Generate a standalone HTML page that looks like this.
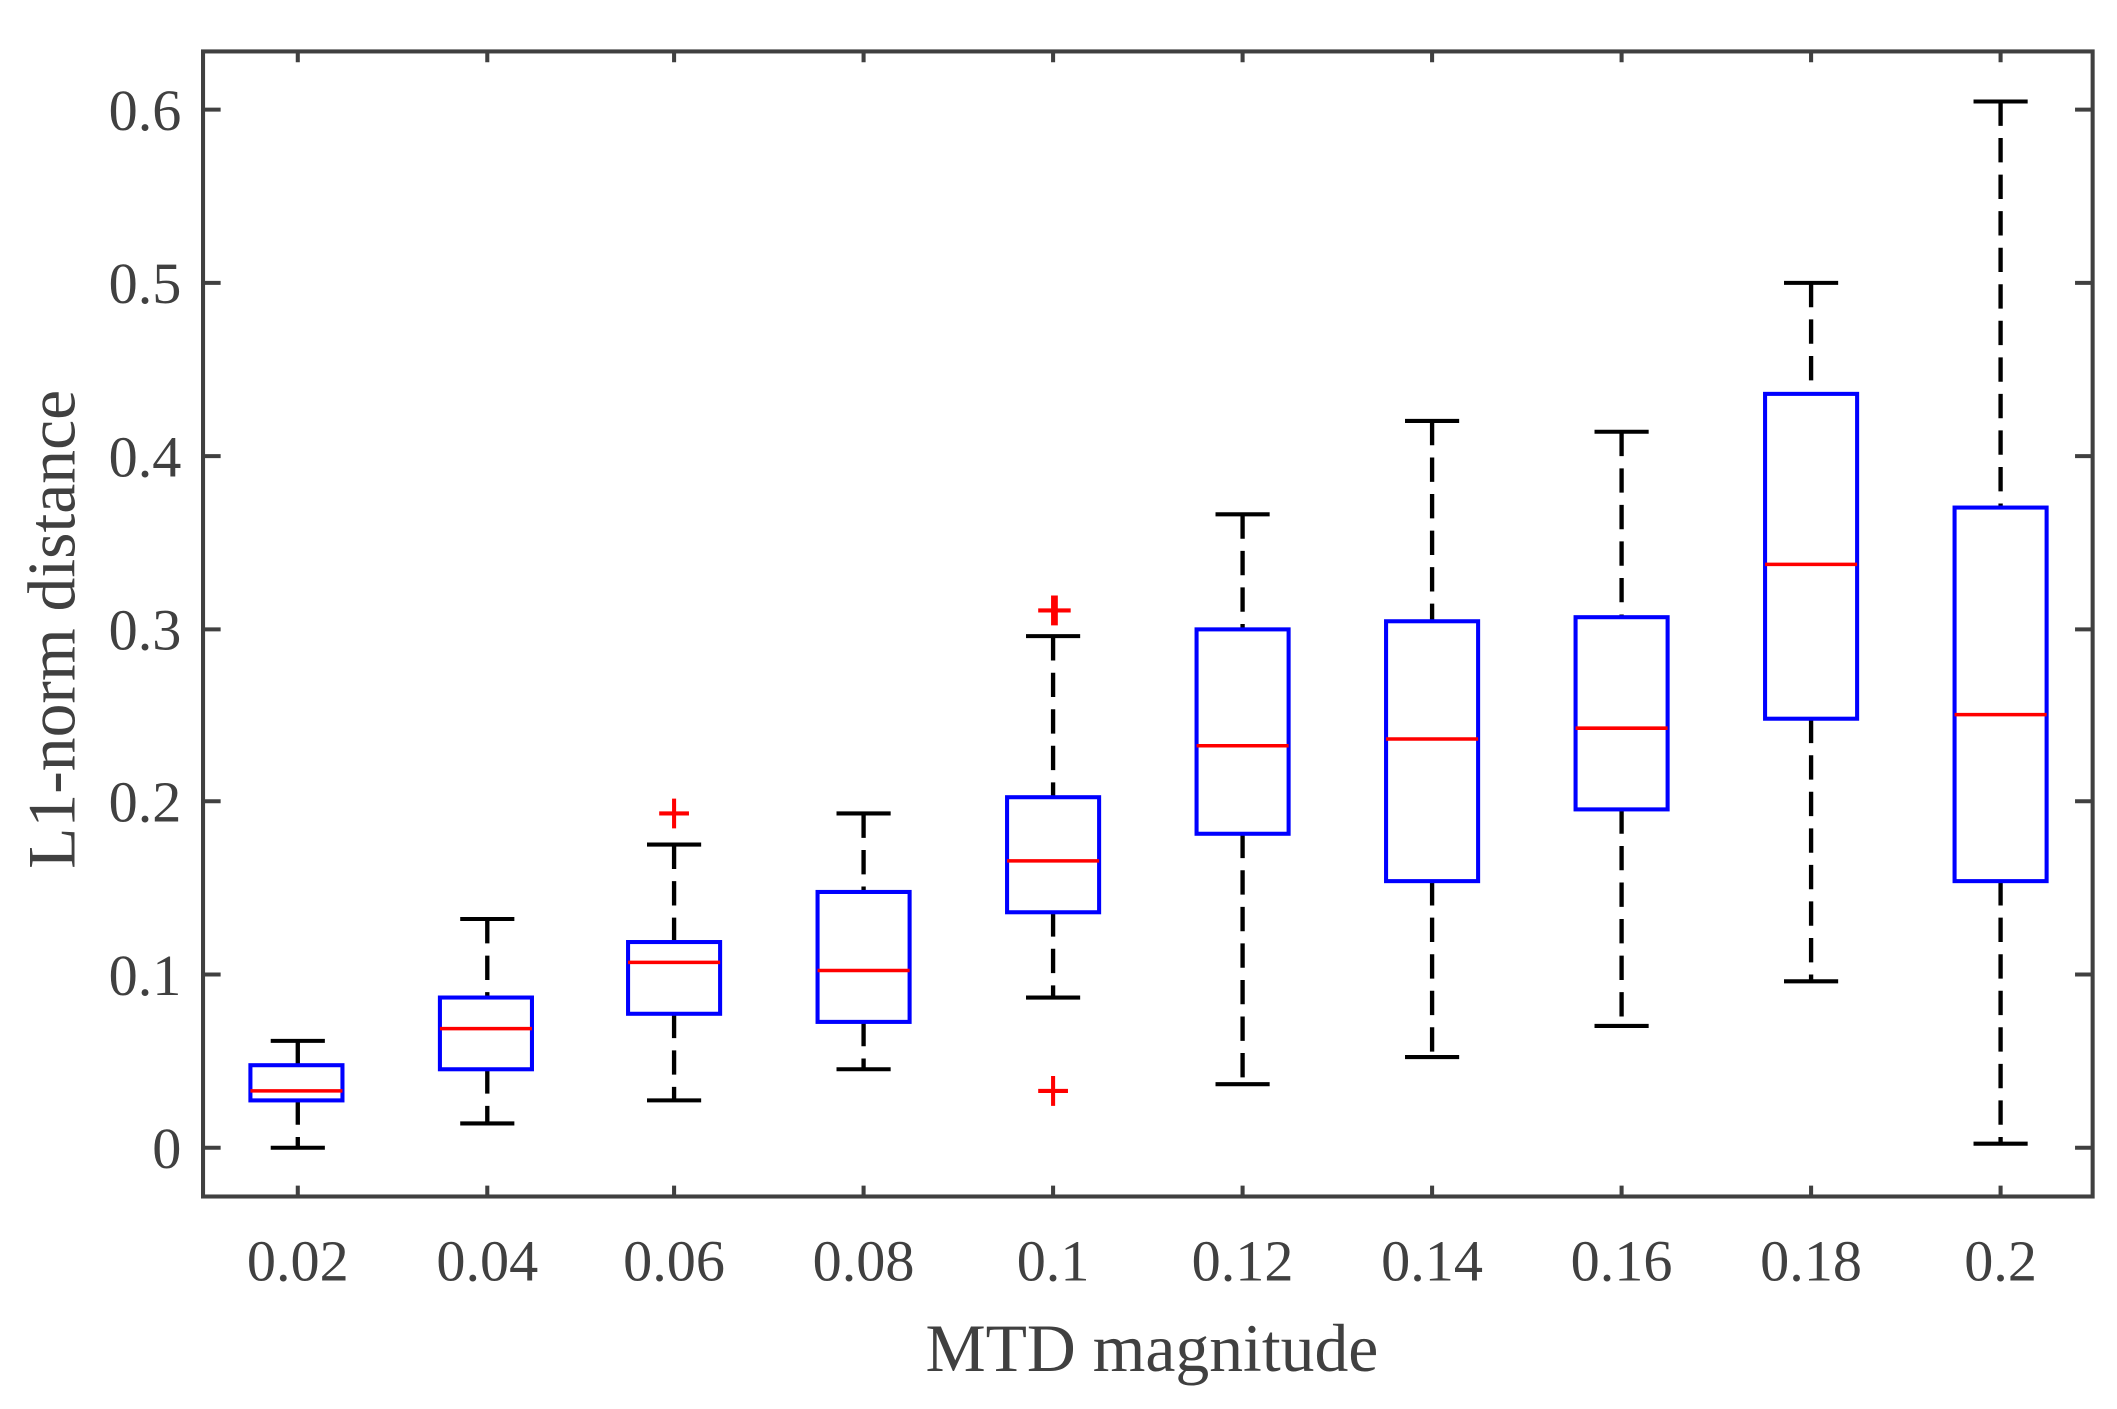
<!DOCTYPE html>
<html><head><style>html,body{margin:0;padding:0;background:#fff}svg{display:block}</style></head><body>
<svg width="2117" height="1409" viewBox="0 0 1564 1041" preserveAspectRatio="none" xmlns="http://www.w3.org/2000/svg" font-family="Liberation Serif, serif">
<rect x="150" y="38" width="1396" height="846" fill="none" stroke="#404040" stroke-width="3"/>
<g stroke="#404040" stroke-width="3">
<line x1="150" y1="848" x2="163" y2="848"/><line x1="150" y1="720" x2="163" y2="720"/><line x1="150" y1="592" x2="163" y2="592"/><line x1="150" y1="465" x2="163" y2="465"/><line x1="150" y1="337" x2="163" y2="337"/><line x1="150" y1="209" x2="163" y2="209"/><line x1="150" y1="81" x2="163" y2="81"/>
<line x1="1546" y1="848" x2="1533" y2="848"/><line x1="1546" y1="720" x2="1533" y2="720"/><line x1="1546" y1="592" x2="1533" y2="592"/><line x1="1546" y1="465" x2="1533" y2="465"/><line x1="1546" y1="337" x2="1533" y2="337"/><line x1="1546" y1="209" x2="1533" y2="209"/><line x1="1546" y1="81" x2="1533" y2="81"/>
<path d="M220 38v8M360 38v8M498 38v8M638 38v8M778 38v8M918 38v8M1058 38v8M1198 38v8M1338 38v8M1478 38v8M220 884v-8M360 884v-8M498 884v-8M638 884v-8M778 884v-8M918 884v-8M1058 884v-8M1198 884v-8M1338 884v-8M1478 884v-8"/>
</g>
<g fill="#404040" font-size="43" text-anchor="end">
<text x="134" y="863">0</text><text x="134" y="735">0.1</text><text x="134" y="607">0.2</text><text x="134" y="480">0.3</text><text x="134" y="352">0.4</text><text x="134" y="224">0.5</text><text x="134" y="96">0.6</text>
</g>
<g fill="#404040" font-size="43" text-anchor="middle">
<text x="220" y="946">0.02</text><text x="360" y="946">0.04</text><text x="498" y="946">0.06</text><text x="638" y="946">0.08</text><text x="778" y="946">0.1</text><text x="918" y="946">0.12</text><text x="1058" y="946">0.14</text><text x="1198" y="946">0.16</text><text x="1338" y="946">0.18</text><text x="1478" y="946">0.2</text>
<text x="851" y="1013" font-size="50">MTD magnitude</text>
<text transform="translate(55,465) rotate(-90)" font-size="50">L1-norm distance</text>
</g>
<g stroke="#000" stroke-width="3.2" stroke-dasharray="18,9" fill="none">
<path d="M220 769V787M220 813V848"/>
<path d="M360 679V737M360 790V830"/>
<path d="M498 624V696M498 749V813"/>
<path d="M638 601V659M638 755V790"/>
<path d="M778 470V589M778 674V737"/>
<path d="M918 380V465M918 616V801"/>
<path d="M1058 311V459M1058 651V781"/>
<path d="M1198 319V456M1198 598V758"/>
<path d="M1338 209V291M1338 531V725"/>
<path d="M1478 75V375M1478 651V845"/>
</g>
<path stroke="#000" stroke-width="3" fill="none" d="M200 769h40M200 848h40M340 679h40M340 830h40M478 624h40M478 813h40M618 601h40M618 790h40M758 470h40M758 737h40M898 380h40M898 801h40M1038 311h40M1038 781h40M1178 319h40M1178 758h40M1318 209h40M1318 725h40M1458 75h40M1458 845h40"/>
<g fill="none" stroke="#0000ff" stroke-width="3">
<rect x="185" y="787" width="68" height="26"/>
<rect x="325" y="737" width="68" height="53"/>
<rect x="464" y="696" width="68" height="53"/>
<rect x="604" y="659" width="68" height="96"/>
<rect x="744" y="589" width="68" height="85"/>
<rect x="884" y="465" width="68" height="151"/>
<rect x="1024" y="459" width="68" height="192"/>
<rect x="1164" y="456" width="68" height="142"/>
<rect x="1304" y="291" width="68" height="240"/>
<rect x="1444" y="375" width="68" height="276"/>
</g>
<path stroke="#ff0000" stroke-width="2.6" fill="none" d="M185 806h68M325 760h68M464 711h68M604 717h68M744 636h68M884 551h68M1024 546h68M1164 538h68M1304 417h68M1444 528h68"/>
<path stroke="#ff0000" stroke-width="3" fill="none" d="M487 601h22M498 590v22M767 451h24M778 440v22M780 440v22M767 806h22M778 795v22"/>
</svg>
</body></html>
